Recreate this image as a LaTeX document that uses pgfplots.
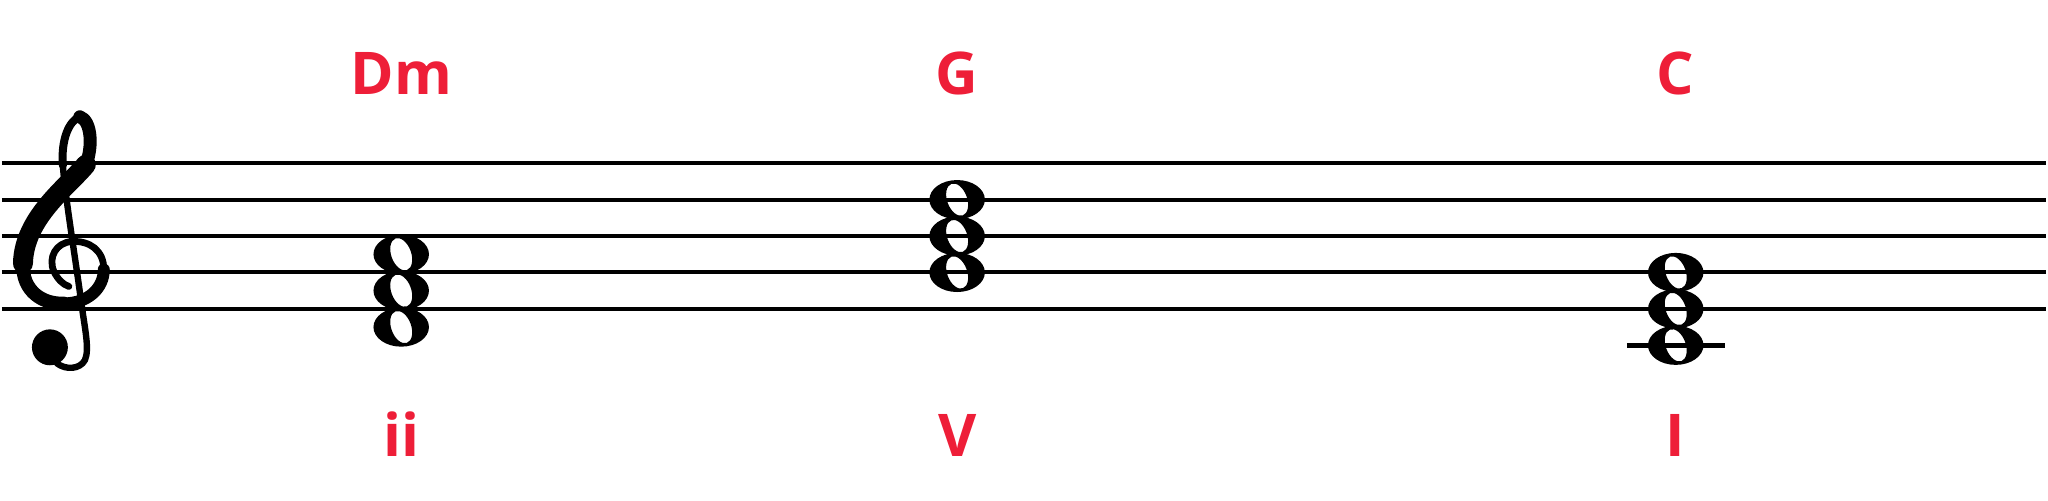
\documentclass[border=0pt]{standalone}
\usepackage{pgfplots}
\pgfplotsset{compat=1.18}
\usepackage{fontspec}
\setmainfont{Open Sans}
\definecolor{chordred}{RGB}{238,30,56}

% whole note head (sizes in pt; 1 px of the reference = 0.5 pt)
\pgfdeclareplotmark{whole}{%
  \pgfpathellipse{\pgfpointorigin}{\pgfpoint{13.9pt}{0pt}}{\pgfpoint{0pt}{9.8pt}}%
  \pgfpathellipse{\pgfpointorigin}{\pgfpointpolar{20}{5.0pt}}{\pgfpointpolar{110}{8.4pt}}%
  \pgfseteorule
  \pgfusepath{fill}%
}

% treble clef, drawn in reference pixel units around the point (62,273)
\pgfdeclareplotmark{gclef}{%
  \pgftransformcm{0.5}{0}{0}{-0.5}{\pgfpoint{-31pt}{136.5pt}}%
  \pgfsetroundcap\pgfsetroundjoin
  % thick diagonal and left side of bowl
  \pgfsetlinewidth{10pt}%
  \pgfpathmoveto{\pgfpoint{84pt}{165pt}}%
  \pgfpathcurveto{\pgfpoint{66pt}{187pt}}{\pgfpoint{22pt}{218pt}}{\pgfpoint{21pt}{264pt}}%
  \pgfusepath{stroke}%
  % bottom of bowl
  \pgfsetlinewidth{6.8pt}%
  \pgfpathmoveto{\pgfpoint{21pt}{264pt}}%
  \pgfpathcurveto{\pgfpoint{20pt}{292pt}}{\pgfpoint{41pt}{305pt}}{\pgfpoint{62pt}{304pt}}%
  \pgfusepath{stroke}%
  % right side of bowl
  \pgfsetlinewidth{6pt}%
  \pgfpathmoveto{\pgfpoint{62pt}{304pt}}%
  \pgfpathcurveto{\pgfpoint{86pt}{304pt}}{\pgfpoint{102pt}{289pt}}{\pgfpoint{102pt}{270pt}}%
  \pgfusepath{stroke}%
  % top of inner bowl and curl
  \pgfsetlinewidth{3.4pt}%
  \pgfpathmoveto{\pgfpoint{102pt}{270pt}}%
  \pgfpathcurveto{\pgfpoint{102pt}{251pt}}{\pgfpoint{88pt}{241pt}}{\pgfpoint{70pt}{242pt}}%
  \pgfpathcurveto{\pgfpoint{54pt}{243pt}}{\pgfpoint{46pt}{258pt}}{\pgfpoint{52pt}{272pt}}%
  \pgfpathcurveto{\pgfpoint{56pt}{280pt}}{\pgfpoint{61pt}{285pt}}{\pgfpoint{67pt}{287pt}}%
  \pgfusepath{stroke}%
  % upper loop, right side
  \pgfsetlinewidth{6.5pt}%
  \pgfpathmoveto{\pgfpoint{84pt}{165pt}}%
  \pgfpathcurveto{\pgfpoint{91pt}{148pt}}{\pgfpoint{90pt}{121pt}}{\pgfpoint{78pt}{117pt}}%
  \pgfusepath{stroke}%
  % upper loop, left side
  \pgfsetlinewidth{4pt}%
  \pgfpathmoveto{\pgfpoint{78pt}{117pt}}%
  \pgfpathcurveto{\pgfpoint{67pt}{121pt}}{\pgfpoint{59pt}{140pt}}{\pgfpoint{61pt}{166pt}}%
  \pgfusepath{stroke}%
  % stem and hook
  \pgfsetlinewidth{3.2pt}%
  \pgfpathmoveto{\pgfpoint{61pt}{166pt}}%
  \pgfpathcurveto{\pgfpoint{63pt}{195pt}}{\pgfpoint{73pt}{255pt}}{\pgfpoint{79pt}{300pt}}%
  \pgfpathcurveto{\pgfpoint{83pt}{330pt}}{\pgfpoint{88pt}{350pt}}{\pgfpoint{83pt}{361pt}}%
  \pgfpathcurveto{\pgfpoint{78pt}{370pt}}{\pgfpoint{64pt}{371pt}}{\pgfpoint{55pt}{364pt}}%
  \pgfusepath{stroke}%
  % ball
  \pgfpathcircle{\pgfpoint{48pt}{348pt}}{18pt}%
  \pgfusepath{fill}%
}

\begin{document}
\begin{tikzpicture}
\begin{axis}[
  width=1024pt, height=250.5pt, scale only axis,
  xmin=0, xmax=2048, ymin=0, ymax=501, y dir=reverse,
  hide axis, clip=false,
]
% staff lines
\addplot[black, line width=2pt] coordinates {(0,163.5) (2048,163.5)};
\addplot[black, line width=2pt] coordinates {(0,200) (2048,200)};
\addplot[black, line width=2pt] coordinates {(0,236.5) (2048,236.5)};
\addplot[black, line width=2pt] coordinates {(0,273) (2048,273)};
\addplot[black, line width=2pt] coordinates {(0,309.5) (2048,309.5)};
% ledger line under the C chord
\addplot[black, line width=2.2pt] coordinates {(1628,346) (1726,346)};
% treble clef
\addplot[black, fill=black, only marks, mark=gclef] coordinates {(62,273)};
% chords: Dm (D4 F4 A4), G (G4 B4 D5), C (C4 E4 G4)
\addplot[black, fill=black, only marks, mark=whole] coordinates {
  (400,327.75) (400,291.25) (400,254.75)
  (957,273) (957,236.5) (957,200)
  (1677,346) (1677,309.5) (1677,273)
};
% labels
\node[anchor=base, text=chordred, font=\fontsize{29.5}{30}\selectfont\bfseries] at (axis cs:400,95) {Dm};
\node[anchor=base, text=chordred, font=\fontsize{29.5}{30}\selectfont\bfseries] at (axis cs:957,95) {G};
\node[anchor=base, text=chordred, font=\fontsize{29.5}{30}\selectfont\bfseries] at (axis cs:1677,95) {C};
\node[anchor=base, text=chordred, font=\fontsize{29.5}{30}\selectfont\bfseries] at (axis cs:400,457) {ii};
\node[anchor=base, text=chordred, font=\fontsize{29.5}{30}\selectfont\bfseries] at (axis cs:957,457) {V};
\node[anchor=base, text=chordred, font=\fontsize{29.5}{30}\selectfont\bfseries] at (axis cs:1677,457) {I};
\path (axis cs:0,0) rectangle (axis cs:2048,501);
\end{axis}
\end{tikzpicture}
\end{document}
